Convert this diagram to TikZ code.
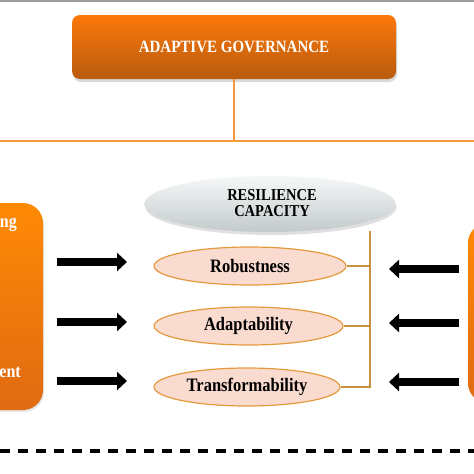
\documentclass[tikz,border=0pt]{standalone}
\usepackage{fontspec}
\setmainfont{Liberation Serif}
\usetikzlibrary{shapes.geometric,shadows,arrows.meta}
\definecolor{orTop}{HTML}{FB780A}
\definecolor{orBot}{HTML}{B95B0E}
\definecolor{sideTop}{HTML}{FF8A05}
\definecolor{sideBot}{HTML}{E06A12}
\definecolor{conLine}{HTML}{F39A3C}
\definecolor{brLine}{HTML}{C8913E}
\definecolor{capFill}{HTML}{FADBD0}
\definecolor{capDraw}{HTML}{E49A3C}
\definecolor{resTop}{HTML}{F6F8F8}
\definecolor{resBot}{HTML}{C3CACC}
\newcommand{\tallbox}[1]{\scalebox{1}[1.15]{#1}}
\tikzset{
  govbox/.style={rounded corners=8pt, top color=orTop, bottom color=orBot,
    minimum width=324pt, minimum height=64pt, inner sep=0pt,
    text=white, font=\bfseries\fontsize{15}{17}\selectfont,
    drop shadow={opacity=0.3, shadow xshift=1pt, shadow yshift=-3pt}},
  sidebox/.style={rounded corners=20pt, top color=sideTop, bottom color=sideBot,
    inner sep=0pt, drop shadow={opacity=0.2, shadow xshift=1pt, shadow yshift=-2pt}},
  sidetext/.style={text=white, font=\bfseries\fontsize{16}{18}\selectfont, inner sep=0pt},
  resell/.style={ellipse, top color=resTop, bottom color=resBot, inner sep=0pt,
    minimum width=251pt, minimum height=56pt,
    drop shadow={opacity=0.25, shadow xshift=1pt, shadow yshift=-3pt}},
  capell/.style={ellipse, fill=capFill, draw=capDraw, line width=1.2pt, inner sep=0pt,
    minimum height=38pt, font=\bfseries\fontsize{16.5}{18}\selectfont},
  conline/.style={draw=conLine, line width=1.3pt},
  brline/.style={draw=brLine, line width=1.3pt},
  bigarrow/.style={line width=8pt, -{Triangle[length=10pt,width=18pt]}}
}
\begin{document}
\begin{tikzpicture}[x=1pt,y=-1pt]
\useasboundingbox (0,0) rectangle (474,474);
\fill[white] (0,0) rectangle (474,474);
\fill[black!38] (0,0) rectangle (474,2);

% top box
\node[govbox] (gov) at (234,47) {\tallbox{ADAPTIVE GOVERNANCE}};
\coordinate (hl) at (0,141);
\coordinate (hr) at (474,141);
\coordinate (hm) at (234,141);
\draw[conline] (gov.south) -- (hm);
\draw[conline] (hl) -- (hr);

% side boxes
\node[sidebox, minimum width=73pt, minimum height=207pt] (lbox) at (6.5,306.5) {};
\node[sidebox, minimum width=72pt, minimum height=180pt] (rbox) at (504,313) {};
\node[sidetext, anchor=east] (lt1) at (17,225) {\tallbox{ng}};
\node[sidetext, anchor=east] (lt2) at (21,372) {\tallbox{ent}};

% resilience capacity
\node[resell] (res) at (270,204) {};
\node[font=\bfseries\fontsize{14.5}{16.5}\selectfont, align=center, inner sep=0pt] (restext) at (272,203) {\tallbox{RESILIENCE}\\\tallbox{CAPACITY}};

% capacities
\node[capell, minimum width=192pt] (rob) at (250,266) {\tallbox{Robustness}};
\node[capell, minimum width=189pt] (ada) at (248.5,326) {\tallbox{Adaptability}};
\node[capell, minimum width=186pt] (tra) at (247,387) {\tallbox{Transformability}};

% bracket
\coordinate (bt) at (370,231);
\coordinate (bb) at (370,388);
\coordinate (b1) at (370,266);
\coordinate (b2) at (370,326);
\coordinate (b3) at (370,387);
\draw[brline] (bt) -- (bb);
\draw[brline] (rob.east) -- (b1);
\draw[brline] (ada.east) -- (b2);
\draw[brline] (tra.east) -- (b3);

% arrows left
\coordinate (la1s) at (57,262); \coordinate (la1e) at (127,262);
\coordinate (la2s) at (57,322); \coordinate (la2e) at (127,322);
\coordinate (la3s) at (57,381); \coordinate (la3e) at (127,381);
\draw[bigarrow] (la1s) -- (la1e);
\draw[bigarrow] (la2s) -- (la2e);
\draw[bigarrow] (la3s) -- (la3e);
% arrows right
\coordinate (ra1s) at (459,269); \coordinate (ra1e) at (389,269);
\coordinate (ra2s) at (459,323); \coordinate (ra2e) at (389,323);
\coordinate (ra3s) at (459,382); \coordinate (ra3e) at (389,382);
\draw[bigarrow] (ra1s) -- (ra1e);
\draw[bigarrow] (ra2s) -- (ra2e);
\draw[bigarrow] (ra3s) -- (ra3e);

% dashed line
\coordinate (dl) at (0,451);
\coordinate (dr) at (474,451);
\draw[line width=4pt, dash pattern=on 10pt off 8pt] (dl) -- (dr);
\end{tikzpicture}
\end{document}
